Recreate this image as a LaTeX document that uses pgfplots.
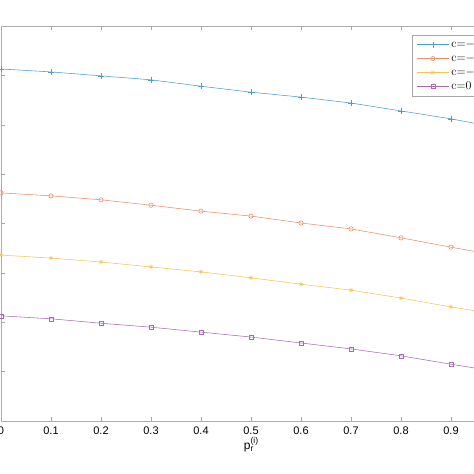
\documentclass[border=0pt]{standalone}
\usepackage{fontspec}
\newfontfamily\helv{Liberation Sans}
\usepackage{pgfplots}
\pgfplotsset{compat=1.18}
\definecolor{mb}{rgb}{0,0.447,0.741}
\definecolor{mo}{rgb}{0.85,0.325,0.098}
\definecolor{my}{rgb}{0.929,0.694,0.125}
\definecolor{mp}{rgb}{0.494,0.184,0.556}
\begin{document}
\begin{tikzpicture}
\begin{axis}[
  scale only axis, width=500pt, height=395pt,
  xmin=0, xmax=1, ymin=0, ymax=8,
  xtick={0,0.1,0.2,0.3,0.4,0.5,0.6,0.7,0.8,0.9,1},
  ytick={0,1,2,3,4,5,6,7,8}, yticklabels={},
  tick align=inside, major tick length=4pt,
  tick style={gray!70, line width=0.5pt},
  axis line style={gray!65, line width=0.8pt},
  /pgf/number format/assume math mode=true,
  /pgf/number format/fixed, /pgf/number format/precision=1,
  xticklabel style={font=\helv\fontsize{11}{13}\selectfont, yshift=-2pt},
  xlabel={\helv\fontsize{12}{14}\selectfont p\rlap{\raisebox{-0.45ex}{\fontsize{8.5}{9}\selectfont r}}\raisebox{0.9ex}{\fontsize{8.5}{9}\selectfont (i)}},
  xlabel style={yshift=4pt},
  legend cell align=left,
  legend style={at={(0.822,0.977)}, anchor=north west, draw=gray!70, line width=0.6pt,
    font=\fontsize{12}{13}\selectfont, row sep=0.5pt, inner ysep=2.5pt, inner xsep=4pt},
  legend image code/.code={\draw[mark repeat=2,mark phase=2] plot coordinates {(0cm,0cm) (0.57cm,0cm) (1.14cm,0cm)};},
  every axis plot/.append style={line width=0.55pt},
]
\addplot[mb!70, mark=+, mark size=3pt, mark options={solid}] coordinates {
(0,7.13)(0.1,7.07)(0.2,6.99)(0.3,6.91)(0.4,6.78)(0.5,6.66)(0.6,6.56)(0.7,6.44)(0.8,6.28)(0.9,6.12)(1,5.93)};
\addlegendentry{c=$-$3}
\addplot[mo!65, mark=o, mark size=2.2pt] coordinates {
(0,4.62)(0.1,4.56)(0.2,4.48)(0.3,4.37)(0.4,4.25)(0.5,4.15)(0.6,4.01)(0.7,3.89)(0.8,3.71)(0.9,3.52)(1,3.34)};
\addlegendentry{c=$-$2}
\addplot[my!75, mark=asterisk, mark size=2.5pt] coordinates {
(0,3.36)(0.1,3.30)(0.2,3.22)(0.3,3.12)(0.4,3.02)(0.5,2.90)(0.6,2.77)(0.7,2.65)(0.8,2.49)(0.9,2.31)(1,2.15)};
\addlegendentry{c=$-$1}
\addplot[mp!70, mark=square, mark size=2pt] coordinates {
(0,2.13)(0.1,2.07)(0.2,1.98)(0.3,1.90)(0.4,1.80)(0.5,1.70)(0.6,1.58)(0.7,1.46)(0.8,1.32)(0.9,1.15)(1,0.99)};
\addlegendentry{c=0}
\coordinate (o) at (rel axis cs:0,0);
\end{axis}
\pgfresetboundingbox
\path[use as bounding box] ([xshift=-1pt,yshift=-53pt]o) rectangle ++(474pt,474pt);
\end{tikzpicture}
\end{document}
